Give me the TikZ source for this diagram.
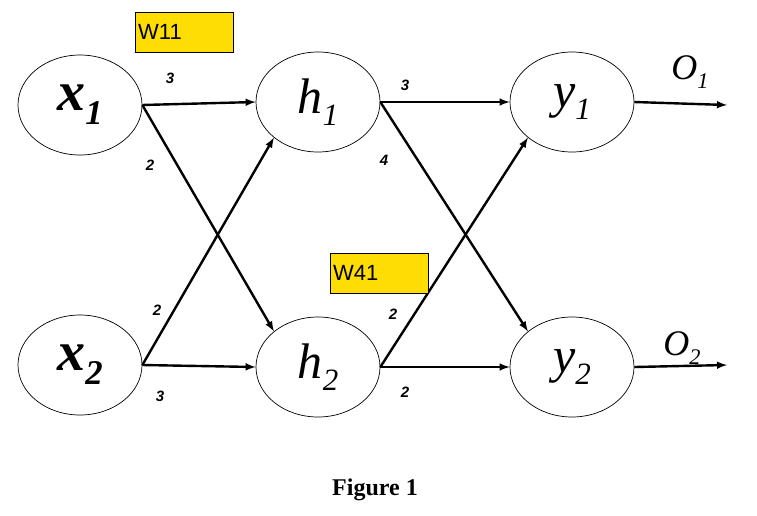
\documentclass[tikz,border=0pt]{standalone}
\usetikzlibrary{shapes.geometric}
\usepackage{fontspec}
\setmainfont{Liberation Serif}
\newfontfamily\sansf{Liberation Sans}
\newcommand{\mysub}[1]{\raisebox{-0.25em}{\scalebox{0.62}{#1}}}
\begin{document}
\begin{tikzpicture}[x=1pt,y=-1pt,
  neu/.style={draw,ellipse,minimum width=124pt,minimum height=100pt,inner sep=0pt,line width=0.7pt},
  con/.style={-latex,line width=2.4pt},
  wt/.style={font=\sansf\itshape\bfseries\fontsize{15}{15}\selectfont},
  box/.style={draw,fill=yellow!80!orange,font=\sansf\fontsize{22}{22}\selectfont,anchor=north west,minimum width=98pt,minimum height=40pt,inner sep=2pt,align=left,text width=92pt}]
\useasboundingbox (0,0) rectangle (757,515);
\node[neu] (x1) at (80,105) {\fontsize{56}{56}\selectfont\bfseries\itshape x\mysub{1}};
\node[neu] (x2) at (80,365) {\fontsize{56}{56}\selectfont\bfseries\itshape x\mysub{2}};
\node[neu] (h1) at (318,102) {\fontsize{50}{50}\selectfont\itshape h\mysub{1}};
\node[neu] (h2) at (318,367) {\fontsize{50}{50}\selectfont\itshape h\mysub{2}};
\node[neu] (y1) at (572,102) {\fontsize{50}{50}\selectfont\itshape y\mysub{1}};
\node[neu] (y2) at (572,367) {\fontsize{50}{50}\selectfont\itshape y\mysub{2}};
\coordinate (o1) at (727,105);
\coordinate (o2) at (727,365);
\draw[con] (x1.east) -- (h1.west);
\draw[con] (x1.east) -- (h2.north west);
\draw[con] (x2.east) -- (h1.south west);
\draw[con] (x2.east) -- (h2.west);
\draw[con] (h1.east) -- (y1.west);
\draw[con] (h1.east) -- (y2.north west);
\draw[con] (h2.east) -- (y1.south west);
\draw[con] (h2.east) -- (y2.west);
\draw[con] (y1.east) -- (o1);
\draw[con] (y2.east) -- (o2);
\node[wt] (w1) at (170,78) {3};
\node[wt] (w2) at (150,165) {2};
\node[wt] (w3) at (157,310) {2};
\node[wt] (w4) at (160,396) {3};
\node[wt] (w5) at (405,85) {3};
\node[wt] (w6) at (384,160) {4};
\node[wt] (w7) at (393,314) {2};
\node[wt] (w8) at (405,392) {2};
\node (lo1) at (690,72) {\fontsize{36}{36}\selectfont\itshape O\mysub{1}};
\node (lo2) at (682,348) {\fontsize{36}{36}\selectfont\itshape O\mysub{2}};
\node[box] (b1) at (135,12) {W11};
\node[box] (b2) at (330,253) {W41};
\node[font=\bfseries\fontsize{24}{24}\selectfont] (cap) at (375,490) {Figure 1};
\end{tikzpicture}
\end{document}
